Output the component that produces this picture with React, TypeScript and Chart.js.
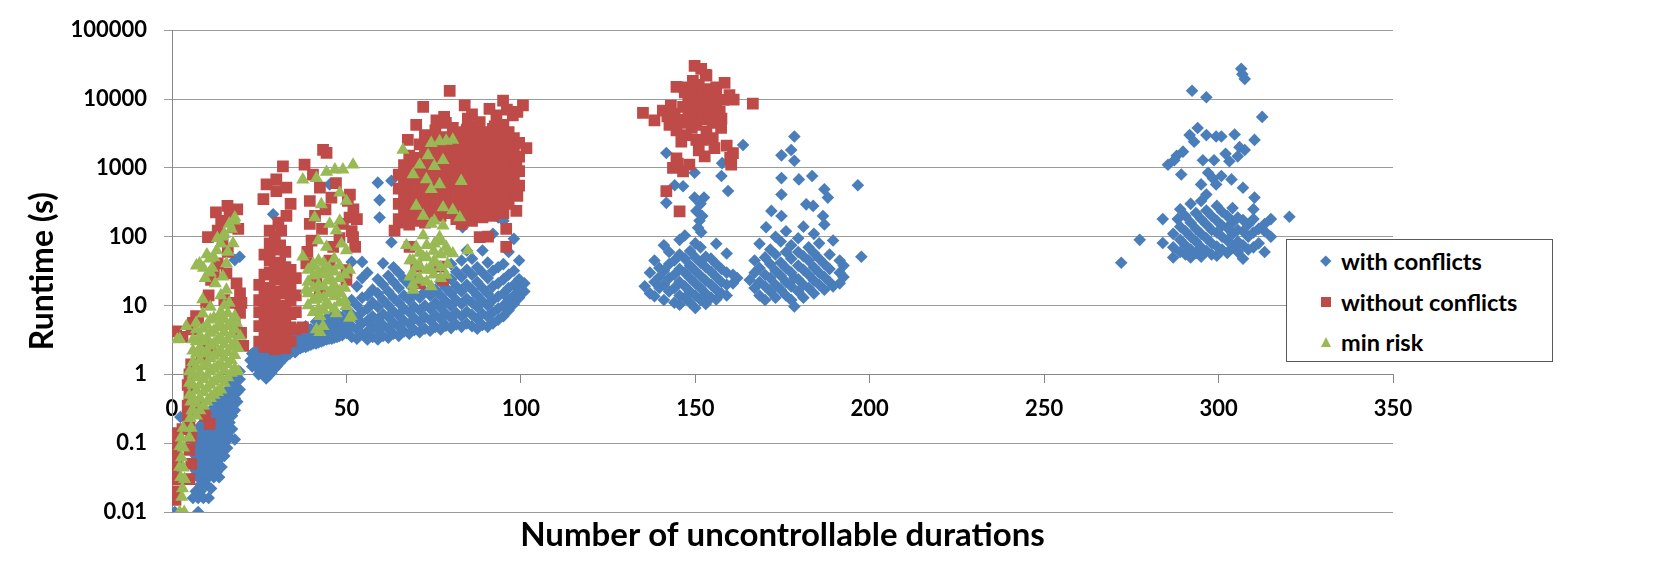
import React, { useEffect, useRef } from 'react';
import { Chart, registerables } from 'chart.js';

Chart.register(...registerables);

type Col = [number, number[]];

const xTitle = 'Number of uncontrollable durations';
const yTitle = 'Runtime (s)';
const seriesNames = ['with conflicts', 'without conflicts', 'min risk'];
const seriesColors = ['#4A7EBB', '#BE4B48', '#98B954'];
const xTickValues = [0, 50, 100, 150, 200, 250, 300, 350];
const yTickValues = [0.01, 0.1, 1, 10, 100, 1000, 10000, 100000];
const yTickLabels = ['0.01', '0.1', '1', '10', '100', '1000', '10000', '100000'];

// ---------- with conflicts ----------
const withConflictsLeft: Col[] = [
  [0.8, [0.01]], [2.4, [0.24]],
  [6, [0.016, 0.032, 0.05, 0.08, 0.12]],
  [6.8, [0.02, 0.04, 0.065, 0.1]],
  [7.5, [0.01, 0.016, 0.032, 0.045, 0.07, 0.1, 0.15]],
  [8.2, [0.02, 0.025, 0.055, 0.085, 0.12, 0.18]],
  [9, [0.016, 0.032, 0.04, 0.06, 0.09, 0.13, 0.2]],
  [9.8, [0.025, 0.045, 0.07, 0.1, 0.15, 0.22]],
  [10.5, [0.016, 0.032, 0.05, 0.08, 0.12, 0.18, 0.26]],
  [11.2, [0.022, 0.04, 0.06, 0.095, 0.14, 0.2, 0.3]],
  [12, [0.032, 0.045, 0.07, 0.11, 0.16, 0.24, 0.33]],
  [12.8, [0.038, 0.055, 0.085, 0.13, 0.19, 0.28, 0.38]],
  [13.5, [0.032, 0.058, 0.09, 0.14, 0.21, 0.3, 0.42]],
  [14.2, [0.045, 0.075, 0.11, 0.17, 0.26, 0.37, 0.5]],
  [15, [0.065, 0.1, 0.16, 0.25, 0.36, 0.5]],
  [15.8, [0.085, 0.13, 0.2, 0.3, 0.42, 0.58]],
  [16.5, [0.12, 0.2, 0.3, 0.45, 0.62]],
  [17.2, [0.16, 0.25, 0.38, 0.55, 0.75]],
  [18, [0.113, 0.3, 0.45, 0.7, 0.9, 46]],
  [18.7, [0.4, 0.55, 0.8, 1.0]],
  [19.4, [0.6, 0.85, 1.1, 51]],
];
const withConflictsRise: Col[] = [
  [22.5, [1.6]], [23, [1.3, 2.0]], [24, [1.3, 1.8]], [24.8, [1.0, 1.6, 2.4]],
  [25.5, [1.1, 1.5, 2.1]], [26.2, [1.0, 1.35, 1.9, 2.6]], [27, [0.87, 1.2, 1.7]],
  [27.8, [1.0, 1.3, 1.8, 2.5]], [28.5, [1.05, 1.4, 2]], [29, [212]], [29.3, [1.2, 1.6, 2.2, 3]],
  [30, [1.3, 1.8, 2.4]], [30.8, [1.45, 1.95, 2.6, 3.4]], [31.5, [1.6, 2.1, 2.8]],
  [32.3, [1.75, 2.3, 3, 3.8]], [33, [1.9, 2.5, 3.2]], [33.8, [2, 2.6, 3.4]], [34.5, [2.2, 2.8]],
  [35.3, [2.1, 2.7, 3.5, 4.4]], [36, [2.3, 3, 3.8]], [36.8, [2.4, 3.1, 4]], [37.5, [2.5, 3.2]],
  [38.3, [2.5, 3.2, 4, 5]], [39, [2.6, 3.4, 4.3]], [39.8, [2.7, 3.5, 4.5]], [40.5, [2.8, 3.6]],
  [41.3, [2.8, 3.6, 4.6, 5.8]], [42, [2.9, 3.8, 4.8]], [42.8, [3, 3.9, 5]], [43.5, [3.1, 4]],
  [44.3, [3.2, 4.1, 5.2, 6.5]], [45, [3.3, 4.2, 5.4]], [45.2, [575]], [45.8, [3.3, 4.3, 5.6, 7]],
  [46.5, [3.4, 4.5, 6]], [47.3, [3.5, 4.6, 6, 7.5]], [48, [3.6, 4.8, 6.5]], [48.8, [3.7, 5, 6.8]],
];
const withConflictsBand: Col[] = [
  [50, [4, 6, 9]], [51.5, [3.5, 5, 7.5, 12, 43]], [53, [3.3, 4.5, 6.5, 10, 19]],
  [54.5, [3.8, 5.5, 8, 13, 25, 43]], [56, [3.2, 4.2, 6, 9, 14, 30]], [57.5, [3.5, 5, 7, 11, 17]],
  [59, [3.2, 4.4, 6.3, 9.5, 15, 24, 610]], [59.5, [190, 340]], [60.5, [3.6, 5.2, 7.5, 12, 20, 41]],
  [62, [3.4, 4.6, 6.8, 10, 16, 27]], [62.9, [83, 650]], [63.5, [3.9, 5.6, 8.2, 13, 22, 36]],
  [65, [3.6, 5, 7.2, 11, 18, 30]], [66.5, [4.2, 6, 9, 14, 24]], [67.6, [1000]],
  [68, [3.9, 5.4, 8, 12, 20]], [69.5, [4.4, 6.5, 9.5, 15, 26]], [71, [4.1, 5.8, 8.5, 13]],
  [72.5, [4.6, 6.8, 10, 16]], [74, [4.3, 6.1, 9, 14]], [75.5, [4.9, 7.2, 11, 17]],
  [77, [4.5, 6.4, 9.3, 14, 22]], [78.5, [5.1, 7.6, 11.5, 18]], [80, [4.7, 6.6, 9.8, 15, 24, 40]],
  [81.5, [5.3, 7.8, 12, 19, 31]], [83, [4.9, 7, 10.5, 16, 26, 45]], [83.3, [137]],
  [84.5, [5.5, 8.2, 12.5, 20, 33, 63]], [86, [5, 7.3, 11, 17, 28, 48]],
  [87.5, [4.6, 6.4, 9.5, 14, 22, 36]], [89, [5.2, 7.6, 11.5, 18, 30, 63]],
  [90.5, [4.9, 6.9, 10, 15, 25, 42]], [92, [5.5, 8, 12, 19, 32, 110]],
  [93.5, [6.2, 9, 13.5, 21, 36, 190]], [95, [7, 10, 15, 24, 40, 170]],
  [96.5, [8.5, 12, 18, 28, 60]], [98, [10.5, 14, 20, 32, 93]], [99.5, [13, 17, 24, 45]],
  [101, [16, 21]],
];
const withConflicts150: Col[] = [
  [135.5, [19]], [137, [15, 30]], [138.3, [13.6, 22, 45]], [139.7, [18, 26, 35]],
  [141, [12, 20, 32, 75]], [141.7, [310, 1640]], [142.5, [16, 25, 40, 60]], [144, [11, 18, 28, 45]],
  [144.1, [560]], [145.5, [10.3, 14, 22, 34, 55, 90]], [146.5, [540]], [147, [13, 19, 30, 48, 104]],
  [148.5, [11, 16, 25, 38, 62]], [149.8, [370, 850]], [150, [9.2, 14, 21, 32, 50, 80]],
  [150.3, [237]], [150.8, [135]], [151.2, [170]], [151.5, [12, 18, 27, 42, 70, 300]],
  [151.7, [116]], [152, [200]], [152.5, [370]], [153, [10.5, 15, 23, 36, 51]],
  [154.5, [13, 20, 31, 48]], [156, [12.2, 17, 26, 40, 79]], [157.5, [15, 22, 34, 760]],
  [157.7, [1170]], [159, [14, 20, 30, 57]], [159.4, [460]], [160.8, [21, 28]], [162, [25]],
  [163.7, [2150]],
];
const withConflicts180: Col[] = [
  [165.6, [23.5]], [167, [18, 30, 45]], [168.4, [14, 22, 35, 79]], [170, [12, 19, 28, 50]],
  [170.3, [137]], [171.5, [16, 25, 40, 65]], [171.8, [237]], [173, [13, 20, 32, 55, 100]],
  [174.5, [17, 27, 42, 85]], [174.7, [200, 410, 710, 1520]], [176, [14, 22, 35, 60, 120]],
  [177.5, [12, 19, 30, 48, 75, 1820]], [178.4, [9.7, 25, 1270, 2860]],
  [179.5, [16, 24, 38, 60, 95]], [179.7, [680]], [181, [13, 20, 33, 52, 140]], [181.8, [295]],
  [182.5, [18, 28, 45, 70]], [183.5, [760]], [183.8, [280]], [184, [15, 23, 36, 58, 110]],
  [185.5, [20, 30, 48, 80]], [186.6, [200]], [187, [17, 26, 40, 150, 488]], [188, [370]],
  [188.5, [22, 34, 55]], [189.5, [19, 88]], [191.4, [21, 30, 45]], [192.5, [26, 38]],
  [196.6, [560]], [197.6, [51]],
];
const withConflicts300: Col[] = [
  [272.1, [41.8]], [277.4, [90]], [284, [81, 180]], [285.5, [1110]], [287, [50, 70, 110]],
  [287.3, [1290]], [288, [1500]], [288.3, [180]], [289, [60, 90, 140, 250]], [289.3, [800]],
  [289.8, [1720]], [290.5, [55, 75, 120, 200]], [291.7, [2990]], [292, [50, 65, 100, 160, 300]],
  [292.4, [13200]], [293, [2400]], [293.5, [58, 85, 130, 220]], [294, [3800]],
  [295, [51, 70, 110, 180, 330, 575]], [295.5, [1290]], [296.5, [62, 95, 150, 240, 410, 2990, 10600]],
  [297, [850]], [298, [55, 80, 125, 200]], [298.4, [700]], [298.7, [1290]],
  [299.3, [575, 2860]], [299.5, [53, 72, 115, 170, 280]], [300.8, [760, 2860]],
  [301, [65, 100, 145, 230]], [302, [1600]], [302.5, [58, 88, 135, 200]], [303.1, [1250]],
  [303.7, [680]], [304, [70, 110, 160, 260]], [304.6, [3060]], [305.5, [60, 85, 125, 190, 1470]],
  [306, [2000]], [306.5, [27500]], [306.8, [23000]], [307, [48, 75, 120, 175, 515]],
  [307.5, [1820, 19600]], [308.5, [65, 100, 150]], [310, [70, 115, 180, 250]], [310.3, [370, 2550]],
  [311.5, [80, 130]], [312.5, [5500]], [313.2, [60, 120, 153]], [315, [100, 180]], [320.3, [195]],
];

// ---------- without conflicts ----------
const withoutConflictsLeft: Col[] = [
  [1, [0.015, 0.02, 0.04, 0.07, 0.14]], [1.2, [0.03, 0.05, 0.1, 4.2]], [3, [0.16, 3.5]],
  [4.5, [0.25, 0.35, 0.7]], [5, [0.03, 0.08, 0.18, 0.5, 1]], [5.5, [0.05, 0.12, 1.4]],
  [5.6, [4.5]], [6, [5.6]], [6.9, [7]], [7.5, [6.5]], [8, [0.36]], [8.5, [1.8]], [9, [3]],
  [9.5, [0.25]], [9.8, [11]], [10.3, [98.6]], [10.5, [14]], [10.8, [0.19]], [11, [2.2]],
  [11.2, [23.5]], [12, [30]], [12.6, [225]], [13.1, [40.8, 123]], [14.1, [170]], [14.5, [90]],
  [15, [12]], [15.6, [29.4]], [15.9, [280]], [16, [60]], [16.5, [200]], [17.7, [10.9, 137]],
  [18, [5]], [18.5, [21]], [18.7, [250]], [19, [130]], [19.5, [7.8, 15]], [19.8, [4]],
  [19.9, [10.9]], [20.4, [2.6]],
];
const withoutConflicts30: Col[] = [
  [25, [3, 5, 8, 12, 20]], [26.2, [350]], [26.5, [2.5, 4, 6.5, 10, 16, 28, 55]], [27.1, [575]],
  [28, [2.8, 4.5, 7, 11, 18, 30, 45, 80, 123]], [29.5, [2.3, 3.5, 5.5, 9, 14, 24, 38, 65, 100]],
  [29.9, [460, 680]], [30.5, [160]], [31, [2.6, 4, 6.2, 10, 16, 27, 42, 75]], [31.3, [123]],
  [31.8, [1050]], [32.5, [2.4, 3.7, 5.8, 9.2, 15, 23, 36, 60]], [32.8, [200, 515]],
  [34, [3, 4.8, 7.5, 12, 20, 33, 300]], [35.5, [4.5, 8, 14, 25]], [37.5, [4.8]],
];
const withoutConflicts45: Col[] = [
  [38, [1110]], [38.5, [40.8]], [38.8, [60]], [39.5, [153, 330]], [40, [88]], [40.4, [800]],
  [41, [200]], [41.4, [23.5]], [42.4, [17, 515]], [43, [130]], [43.3, [1820]], [44, [250]],
  [44.3, [1650]], [45.2, [45]], [45.7, [370]], [46.2, [71]], [47, [600]], [48, [95]],
  [49, [153]], [50, [23.5, 32.8]], [50.4, [330]], [50.9, [190]], [51, [410]], [51.5, [120]],
  [51.9, [98.6]], [52, [250]], [52.5, [71]], [53, [180]],
];
const withoutConflicts80: Col[] = [
  [63.8, [123]], [65, [180, 300, 500, 800]], [66.5, [160, 250, 400, 650, 1100]],
  [67.6, [2550]], [68, [150, 220, 350, 550, 900, 1500]], [68.1, [71]],
  [69.5, [170, 280, 450, 700, 1200]], [70, [36.6, 4200]], [71, [21, 200, 320, 520, 850, 1400, 2200]],
  [72, [7700]], [72.5, [160, 260, 420, 680, 1100, 1800, 3000]], [74, [190, 300, 480, 780, 1300, 2100]],
  [75.5, [230, 370, 600, 1000, 1600, 2600, 3500]], [75.8, [4900]], [76.7, [36.6]],
  [77, [200, 320, 520, 850, 1400, 2300]], [77.7, [23.5]], [78, [5500]],
  [78.5, [250, 400, 650, 1050, 1700, 2800, 4500]], [79.6, [13100]], [80, [220, 350, 560, 900, 1500, 2400]],
  [80.5, [3800]], [81.5, [180, 290, 460, 750, 1200, 2000, 3300]], [83, [153, 240, 380, 620, 1000, 1650, 2700]],
  [83.9, [8100]], [84.5, [200, 320, 520, 840, 1350, 2200, 3600]], [84.8, [5200]],
  [86, [170, 260, 420, 680, 1100, 1800, 2900, 6000]], [87.5, [220, 350, 570, 920, 1500, 2500, 4000]],
  [88.2, [98.6, 4600]], [89, [190, 300, 480, 780, 1250, 2000, 3300]], [90.5, [250, 400, 650, 1050, 1700, 2800]],
  [90.6, [100]], [91, [7200]], [92, [200, 330, 530, 860, 1400, 2300, 3700]], [92.5, [4000]],
  [93, [5800]], [93.5, [270, 440, 700, 1150, 1850, 3000]], [94.9, [9500]],
  [95, [220, 360, 580, 940, 1500, 2500, 4200]], [95.8, [71, 130]], [96, [7000]],
  [96.5, [300, 480, 780, 1250, 2000, 3300]], [97.7, [5800]], [98, [400, 650, 1050, 1700, 2700]],
  [98.7, [237, 1000]], [99, [390, 6500]], [99.5, [550, 900, 1450, 2300]], [100.6, [8100]],
  [101.6, [1940]],
];
const withoutConflicts150: Col[] = [
  [135, [6300]], [138.3, [4900]], [140.7, [6800]], [141.7, [460]], [142, [5600]], [142.6, [4200]],
  [143, [8000]], [143.6, [1000]], [144.1, [6100]], [144.6, [1370, 3500, 15000]], [145, [1150]],
  [145.5, [233, 5000]], [146, [2400]], [146.5, [890, 7700]], [146.9, [14800]], [147, [4500, 12500]],
  [147.4, [2990]], [148, [5500, 10000]], [148.3, [1110, 8100]], [149, [3800]], [149.3, [18300]],
  [149.5, [13500]], [149.8, [30400]], [150, [6000]], [150.3, [2550, 4200]], [150.8, [8100, 11400]],
  [151, [1800, 16000]], [151.5, [9500]], [151.7, [27500]], [152, [5000, 12000]], [152.2, [2550]],
  [152.7, [1470]], [153, [10500, 22500]], [153.2, [3330, 7200, 21800]], [154, [5800]],
  [154.1, [13900]], [155, [2700, 4500, 9000]], [155.5, [1940]], [156, [8100, 11000, 14800]],
  [157, [6500]], [157.4, [3800]], [157.5, [5200]], [158, [9700]], [158.4, [17200]],
  [159, [2100]], [159.8, [11400]], [160, [1400]], [160.3, [1110]], [160.8, [1640]],
  [161, [9800]], [166.5, [8600]],
];

// ---------- min risk ----------
const minRiskLeft: Col[] = [
  [1.5, [3.2]], [2.2, [0.01, 0.045, 3.24]], [2.3, [0.09]], [2.5, [0.032]], [2.6, [0.12]],
  [2.7, [0.062]], [2.8, [0.0165]], [3, [0.022]], [3.2, [0.044, 0.166]], [3.3, [0.086]],
  [3.5, [0.01]], [3.6, [0.03]], [4.1, [5]], [5, [0.12, 0.5, 0.75, 1.1]], [5.2, [0.23]],
  [5.4, [0.4]], [5.5, [0.166]], [5.7, [0.3]], [6, [0.3, 0.45, 0.7, 1, 1.5, 2.2, 3.2]],
  [6.9, [5.6]], [7, [0.25, 0.38, 0.58, 0.9, 1.3, 2, 3, 4.5, 38]], [7.9, [40.8]],
  [8, [0.3, 0.45, 0.7, 1.05, 1.6, 2.4, 3.6]], [8.8, [7.6, 12.2]],
  [9, [0.35, 0.55, 0.85, 1.3, 2, 3, 4.6, 35]], [9.5, [25]],
  [10, [0.4, 0.62, 0.95, 1.45, 2.2, 3.4, 5.2, 55]], [10.8, [47.8]],
  [11, [0.45, 0.7, 1.1, 1.7, 2.6, 4, 6.2, 9.5, 30]], [11.5, [35]],
  [12, [0.5, 0.78, 1.2, 1.85, 2.8, 4.3, 6.6, 50]], [12.4, [21]], [12.8, [63]],
  [13, [0.55, 0.85, 1.3, 2, 3.1, 4.8, 95]], [13.6, [7]],
  [14, [0.6, 0.9, 1.4, 2.2, 3.4, 5.2, 8, 14, 79]], [14.5, [100]], [14.6, [26.3]],
  [15, [0.75, 1.15, 1.75, 2.7, 4.1, 6.3, 10, 110]], [15.6, [16.9, 40.8]],
  [16, [0.9, 1.4, 2.1, 3.2, 5, 7.7, 60]], [16.4, [10.9, 153]], [17, [1.05, 1.6, 2.5, 3.8, 5.8, 130]],
  [17.5, [80]], [17.9, [170]], [18, [1.2, 1.9, 2.9, 4.5, 7, 190]], [18.5, [5.6]],
  [19, [1.1, 2.4]], [19.5, [3.6]],
];
const minRiskMid: Col[] = [
  [37.5, [51, 675]], [38.5, [16.9]], [39, [10, 15, 22, 33]], [40, [36.6]],
  [40.5, [8, 12, 18, 27, 40]], [40.9, [190]], [41.4, [4.5, 12.2, 710]], [41.9, [88]],
  [42, [9, 14, 20, 30, 45]], [42.4, [4.1, 7]], [42.8, [295]], [43.3, [5, 32.8]],
  [43.5, [8.5, 13, 19, 28, 42]], [44.3, [10.9, 71, 870]], [45, [10, 15, 23, 35]],
  [45.2, [26, 153]], [46.2, [17]], [46.5, [9, 13.5, 20, 31, 48]], [46.7, [940]],
  [47.1, [7.7, 123]], [48, [11, 15, 16, 25, 38]], [48.1, [170, 435]], [48.6, [79]], [49, [940]],
  [49.5, [12, 18, 28]], [50, [9.8, 63, 330]], [50.9, [6.6, 32.8]], [51.4, [7]], [51.9, [1110]],
];
const minRiskRight: Col[] = [
  [66.2, [1820]], [67.2, [74.9]], [68.2, [26.3, 45.3]], [69, [20, 30, 45]], [69.1, [16.9, 800]],
  [70, [36.6, 71, 280]], [71, [23.5, 25, 38, 58, 1110]], [72, [51, 104, 200]], [72.9, [680]],
  [73, [22, 33, 50, 75]], [73.4, [1520]], [74.3, [18.9, 32.8, 153, 488, 2280]], [75, [28, 42, 62]],
  [75.2, [45.3, 79, 170, 1060]], [76.7, [98.6, 575, 2420]], [77, [25, 36, 55, 85]],
  [77.7, [145, 265, 1290]], [78.6, [27.7, 71, 2460]], [79, [40, 60]], [80.5, [56.9, 243, 2550]],
  [82.5, [190]], [82.9, [640]], [84.8, [63]],
];

const toPoints = (cols: Col[]) => cols.flatMap(([x, ys]) => ys.map((y) => ({ x, y })));

const withConflicts = [
  ...withConflictsLeft, ...withConflictsRise, ...withConflictsBand,
  ...withConflicts150, ...withConflicts180, ...withConflicts300,
];
const withoutConflicts = [
  ...withoutConflictsLeft, ...withoutConflicts30, ...withoutConflicts45,
  ...withoutConflicts80, ...withoutConflicts150,
];
const minRisk = [...minRiskLeft, ...minRiskMid, ...minRiskRight];

const FONT = 'Lato';

const xTitlePlugin = {
  id: 'xTitleBelow',
  afterDraw(chart: any) {
    const { ctx, chartArea } = chart;
    ctx.save();
    ctx.font = `bold 33px ${FONT}`;
    ctx.fillStyle = '#000';
    ctx.textAlign = 'center';
    ctx.textBaseline = 'middle';
    ctx.fillText(xTitle, (chartArea.left + chartArea.right) / 2, 535);
    ctx.restore();
  },
};

export default function App() {
  const canvasRef = useRef<HTMLCanvasElement | null>(null);

  useEffect(() => {
    if (!canvasRef.current) return;
    const chart = new Chart(canvasRef.current, {
      type: 'scatter',
      data: {
        datasets: [
          {
            label: seriesNames[0],
            data: toPoints(withConflicts),
            pointStyle: 'rectRot',
            pointRadius: 6.3,
            backgroundColor: seriesColors[0],
            borderWidth: 0,
            order: 3,
          },
          {
            label: seriesNames[1],
            data: toPoints(withoutConflicts),
            pointStyle: 'rect',
            pointRadius: 8.3,
            backgroundColor: seriesColors[1],
            borderWidth: 0,
            order: 2,
          },
          {
            label: seriesNames[2],
            data: toPoints(minRisk),
            pointStyle: 'triangle',
            pointRadius: 7.6,
            backgroundColor: seriesColors[2],
            borderWidth: 0,
            order: 1,
          },
        ],
      },
      options: {
        responsive: false,
        animation: false,
        devicePixelRatio: 1,
        events: [],
        layout: { padding: { left: 0, top: 24, right: 269, bottom: 66 } },
        plugins: {
          legend: { display: false },
          tooltip: { enabled: false },
        },
        scales: {
          x: {
            type: 'linear',
            min: 0,
            max: 350,
            position: { y: 1 } as any,
            afterBuildTicks: (s: any) => {
              s.ticks = xTickValues.map((v) => ({ value: v }));
            },
            ticks: {
              autoSkip: false,
              maxRotation: 0,
              padding: 13,
              color: '#000',
              font: { family: FONT, size: 22, weight: 'bold' },
              callback: (v: any) => String(v),
            },
            grid: {
              drawOnChartArea: false,
              drawTicks: true,
              tickLength: 8,
              color: '#868686',
            },
            border: { display: true, color: '#868686', width: 1 },
          },
          y: {
            type: 'logarithmic',
            min: 0.01,
            max: 100000,
            position: 'left',
            afterBuildTicks: (s: any) => {
              s.ticks = yTickValues.map((v) => ({ value: v }));
            },
            afterFit: (s: any) => {
              s.width = 172;
            },
            ticks: {
              autoSkip: false,
              padding: 17,
              color: '#000',
              font: { family: FONT, size: 22, weight: 'bold' },
              callback: (_v: any, i: number) => yTickLabels[i],
            },
            grid: { color: '#9b9b9b', drawTicks: true, tickLength: 8 },
            border: { display: true, color: '#868686', width: 1 },
            title: {
              display: true,
              text: yTitle,
              color: '#000',
              font: { family: FONT, size: 32, weight: 'bold' },
              padding: { top: 23, bottom: 0 },
            },
          },
        },
      },
      plugins: [xTitlePlugin],
    });
    return () => chart.destroy();
  }, []);

  const legendTop = 239;
  const legendLeft = 1286;

  return (
    <div style={{ position: 'fixed', left: 0, top: 0, width: 1662, height: 578, background: '#fff' }}>
      <canvas ref={canvasRef} width={1662} height={578} style={{ display: 'block', width: 1662, height: 578 }} />
      <div
        style={{
          position: 'absolute',
          left: legendLeft,
          top: legendTop,
          width: 267,
          height: 123,
          boxSizing: 'border-box',
          border: '1px solid #595959',
          background: '#fff',
          fontFamily: FONT,
          fontWeight: 700,
          fontSize: 23.5,
          color: '#000',
        }}
      >
        {seriesNames.map((name, i) => (
          <div
            key={name}
            style={{
              position: 'absolute',
              left: 0,
              top: 21 + i * 40.5 - 15,
              height: 30,
              width: 265,
              display: 'flex',
              alignItems: 'center',
            }}
          >
            <div style={{ width: 78, display: 'flex', justifyContent: 'center', position: 'absolute', left: 0 }}>
              {i === 0 && (
                <div style={{ width: 7.5, height: 7.5, background: seriesColors[0], transform: 'rotate(45deg)' }} />
              )}
              {i === 1 && <div style={{ width: 10, height: 10, background: seriesColors[1] }} />}
              {i === 2 && (
                <div
                  style={{
                    width: 0,
                    height: 0,
                    borderLeft: '5.5px solid transparent',
                    borderRight: '5.5px solid transparent',
                    borderBottom: `10px solid ${seriesColors[2]}`,
                  }}
                />
              )}
            </div>
            <span style={{ position: 'absolute', left: 54, whiteSpace: 'nowrap', lineHeight: '30px' }}>{name}</span>
          </div>
        ))}
      </div>
    </div>
  );
}
